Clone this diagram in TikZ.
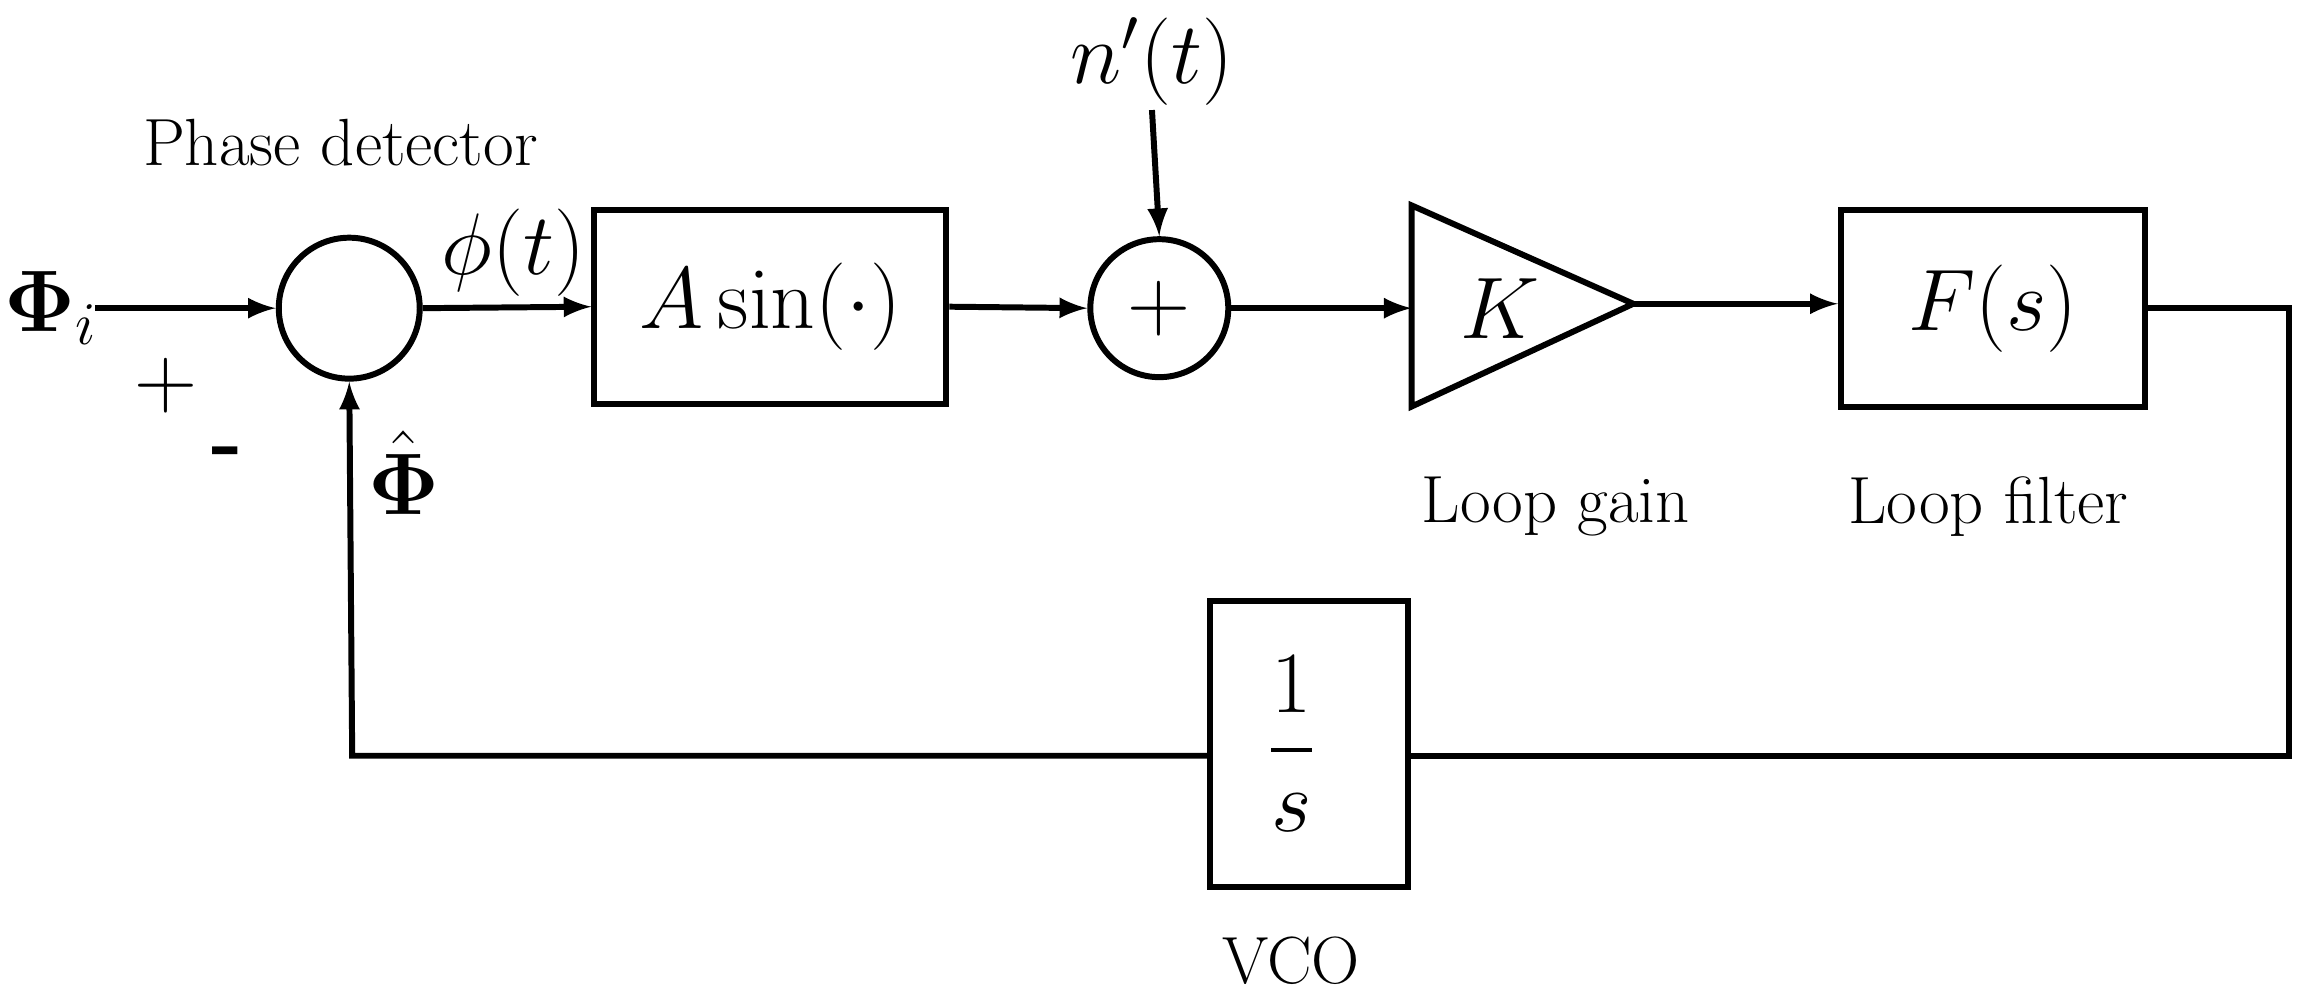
\documentclass[tikz,border=0pt]{standalone}
\usepackage{amsmath}
\usepackage{tikz}
\usetikzlibrary{arrows, positioning, calc}
\tikzstyle{arrow} = [line width=1.7pt,-latex]
\tikzstyle{blk} = [draw, line width=1.7pt, inner sep=0pt]
\tikzstyle{lbl} = [font=\fontsize{19}{22}\selectfont]
\tikzstyle{mth} = [font=\fontsize{24}{28}\selectfont]

\begin{document}
\begin{tikzpicture}[x=0.014675cm, y=-0.014675cm]
% Frame
\useasboundingbox (0,0) rectangle (1568,680);

% Phase detector
\node[blk, circle, minimum size=1.41cm] (sum1) at (238,210) {};
\node[lbl] at (232,97) {Phase detector};
\node[mth] (phii) at (35,210) {$\boldsymbol{\Phi}_i$};
\coordinate (in) at (65,210);
\node[mth] at (113,263) {$+$};
\node[mth] at (155,312) {\textbf{-}};
\node[mth] at (350,172) {$\phi(t)$};
\node[mth] at (275,322) {$\hat{\boldsymbol{\Phi}}$};

% Nonlinearity
\node[blk, minimum width=3.52cm, minimum height=1.94cm] (sinb) at (525,209) {};
\node[mth] at (525,209) {$A\sin(\cdot)$};

% Noise sum
\node[blk, circle, minimum size=1.38cm] (sum2) at (790,210) {};
\node[mth] at (790,210) {$+$};
\node[mth] (noise) at (785,42) {$n'(t)$};
\coordinate (ntop) at (785,75);

% Loop gain
\coordinate (ka) at (962,140);
\coordinate (kb) at (962,277);
\coordinate (kt) at (1113,207);
\draw[line width=1.7pt] (ka) -- (kt) -- (kb) -- cycle;
\coordinate (kin) at (962,210);
\node[mth] at (1022,210) {$K$};
\node[lbl] at (1060,345) {Loop gain};

% Loop filter
\node[blk, minimum width=3.04cm, minimum height=1.97cm] (filt) at (1358,210) {};
\node[mth] at (1358,210) {$F(s)$};
\node[lbl] at (1355,345) {Loop filter};

% VCO
\node[blk, minimum width=1.98cm, minimum height=2.86cm] (vco) at (892,507) {};
\node[mth] at (880,507) {$\dfrac{1}{s}$};
\node[lbl] at (880,655) {VCO};

% Connections
\draw[arrow] (in) -- (sum1.west);
\draw[arrow] (sum1.east) -- (sinb.west);
\draw[arrow] (sinb.east) -- (sum2.west);
\draw[arrow] (ntop) -- (sum2.north);
\draw[arrow] (sum2.east) -- (kin);
\draw[arrow] (kt) -- (filt.west |- kt);
\draw[line width=1.7pt] (filt.east) -- (1560,210) -- (1560,515) -- (vco.east |- 0,515);
\draw[arrow] (vco.west |- 0,515) -- (240,515) -- (sum1.south);
\end{tikzpicture}
\end{document}
